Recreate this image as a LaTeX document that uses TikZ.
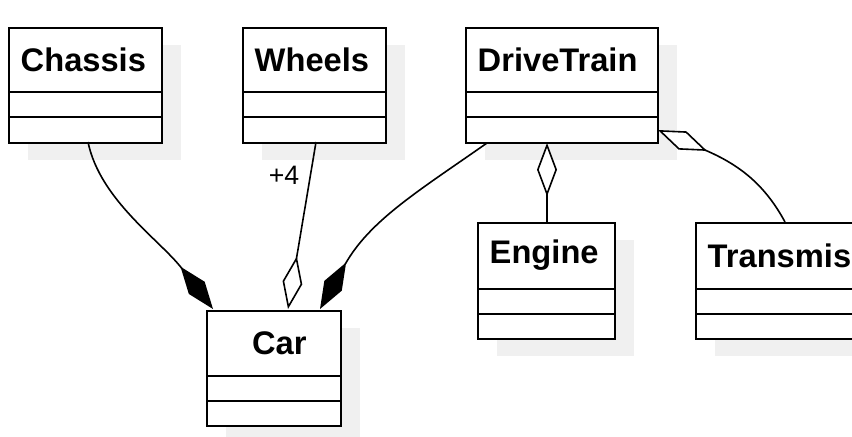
\documentclass[tikz,border=0pt]{standalone}
\usepackage{fontspec}
\setmainfont{Liberation Sans}
\usetikzlibrary{arrows.meta,calc}
\begin{document}
\begin{tikzpicture}[x=0.75pt,y=-0.75pt,
  box/.style={draw=black,line width=1.3pt,fill=white,inner sep=0pt,anchor=north west},
  shadow/.style={fill=black!6,draw=none,inner sep=0pt,anchor=north west},
  title/.style={font=\fontsize{24.5pt}{26pt}\selectfont\bfseries},
  link/.style={line width=1.2pt},
  fd/.style={-{Diamond[length=40pt,width=15pt,fill=black]}},
  od/.style={-{Diamond[open,length=40pt,width=15pt,fill=white]}},
  lbl/.style={font=\fontsize{20pt}{22pt}\selectfont}]
\useasboundingbox (0,0) rectangle (852,436);
\newcommand{\umlclass}[7]{%
  \node[shadow,minimum width=#4*0.75pt,minimum height=#5*0.75pt] at (#2+20,#3+18) {};
  \node[box,minimum width=#4*0.75pt,minimum height=#5*0.75pt] (#1) at (#2,#3) {};
  \draw[line width=1.3pt] (#2,#3+#6) -- (#2+#4,#3+#6);
  \draw[line width=1.3pt] (#2,#3+#6+25) -- (#2+#4,#3+#6+25);
  \node[title,anchor=west] (#1t) at (#2+8,#3+#6/2) {#7};}
\umlclass{chassis}{8}{27}{153}{115}{65}{Chassis}
\umlclass{wheels}{242}{27}{143}{115}{65}{Wheels}
\umlclass{drive}{465}{27}{192}{115}{65}{DriveTrain}
\umlclass{engine}{477}{222}{137}{116}{67}{Engine}
\umlclass{car}{206}{310}{134}{115}{66}{\hspace{25pt}Car}
\begin{scope}
\clip (0,0) rectangle (852,436);
\umlclass{trans}{695}{222}{200}{116}{67}{Transmission}
\end{scope}
\coordinate (c1) at (88,142);
\coordinate (c2) at (213,309);
\draw[link,fd] (c1) .. controls (100,200) and (160,240) .. (c2);
\coordinate (w1) at (316,142);
\coordinate (w2) at (288,309);
\draw[link,od] (w1) -- (w2);
\node[lbl] (four) at (284,175) {+4};
\coordinate (d1) at (487,143);
\coordinate (d2) at (320,309);
\draw[link,fd] (d1) .. controls (420,190) and (370,220) .. (d2);
\coordinate (e1) at (547,222);
\coordinate (e2) at (547,143);
\draw[link,od] (e1) -- (e2);
\coordinate (t1) at (785,222);
\coordinate (t2) at (658,130);
\draw[link,od] (t1) .. controls (765,185) and (740,165) .. (t2);
\end{tikzpicture}
\end{document}
